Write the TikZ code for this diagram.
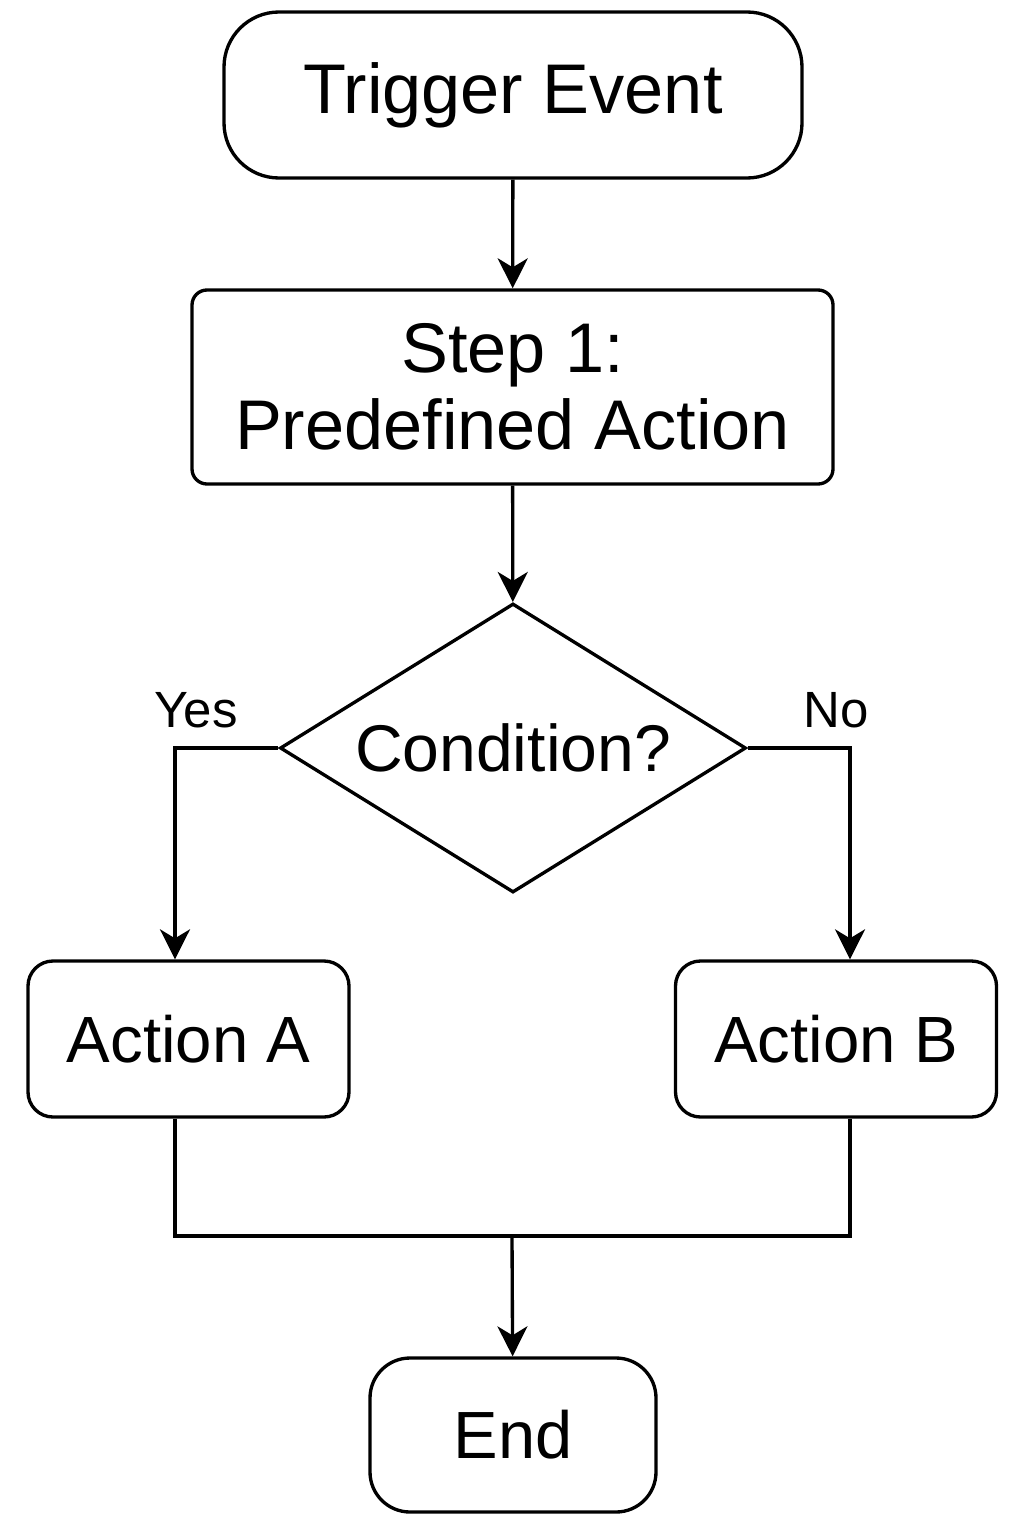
\documentclass[tikz,border=0pt]{standalone}
\usepackage{fontspec}
\setmainfont{Liberation Sans}
\usepackage{tikz}
\usetikzlibrary{shapes.geometric, arrows.meta, positioning, calc}
\tikzset{
	startstop/.style={rectangle, rounded corners=5.5mm, minimum width=5.78cm, minimum height=1.66cm, inner sep=0pt, align=center, draw=black, line width=0.95pt, font=\fontsize{20}{22}\selectfont},
	process/.style  ={rectangle, rounded corners=1.5mm, minimum width=6.41cm, minimum height=1.94cm, inner sep=0pt, align=center, draw=black, line width=0.95pt, font=\fontsize{20}{22}\selectfont},
	decision/.style ={diamond, aspect=1.61, minimum width=4.66cm, minimum height=2.89cm, inner sep=0pt, align=center, draw=black, line width=0.95pt, font=\fontsize{18.8}{22}\selectfont},
	actbox/.style   ={rectangle, rounded corners=2.5mm, minimum width=3.21cm, minimum height=1.56cm, inner sep=0pt, align=center, draw=black, line width=0.95pt, font=\fontsize{18.6}{22}\selectfont},
	endbox/.style   ={rectangle, rounded corners=4mm, minimum width=2.86cm, minimum height=1.54cm, inner sep=0pt, align=center, draw=black, line width=0.95pt, font=\fontsize{19}{22}\selectfont},
	branch/.style   ={font=\fontsize{14.5}{17}\selectfont, inner sep=0pt},
	sig/.style      ={-{Stealth[length=3mm, width=3mm, inset=0.9mm]}, line width=0.95pt},
	wire/.style     ={line width=0.95pt},
}
\begin{document}
\begin{tikzpicture}
	\useasboundingbox (0,0) rectangle (10.24,-15.36);
	\node[startstop] (trig) at (5.13,-0.95) {Trigger Event};
	\node[process] (step) at (5.125,-3.87) {Step 1:\\ Predefined Action};
	\node[decision] (cond) at (5.13,-7.48) {Condition?};
	\node[actbox] (actA) at (1.885,-10.39) {Action A};
	\node[actbox] (actB) at (8.36,-10.39) {Action B};
	\node[endbox] (fin) at (5.13,-14.35) {End};
	\node[branch] (yes) at (1.96,-7.10) {Yes};
	\node[branch] (no) at (8.36,-7.10) {No};
	\coordinate (mrg) at (5.12,-12.36);
	\draw[sig] (trig) -- (step);
	\draw[sig] (step) -- (cond);
	\draw[sig] (cond.west) -| ([xshift=-1.35mm]actA.north);
	\draw[sig] (cond.east) -| ([xshift=1.4mm]actB.north);
	\draw[wire] ([xshift=-1.35mm]actA.south) |- (mrg) -| ([xshift=1.4mm]actB.south);
	\draw[sig] (mrg) -- (fin);
\end{tikzpicture}
\end{document}
